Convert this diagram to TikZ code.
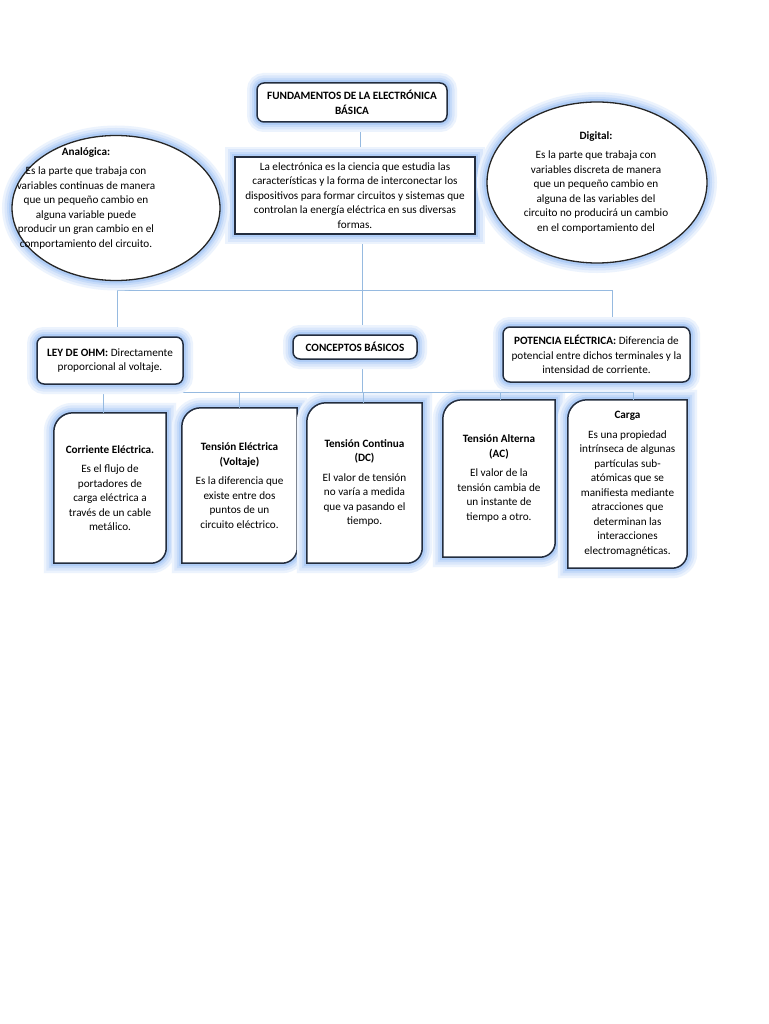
\documentclass[tikz,border=0pt]{standalone}
\usepackage{fontspec}
\setmainfont{Carlito}
\usetikzlibrary{arrows.meta,shapes.geometric,backgrounds}
\definecolor{edge}{RGB}{35,45,62}
\definecolor{wire}{RGB}{150,186,224}
\definecolor{glowa}{RGB}{236,243,253}
\definecolor{glowb}{RGB}{218,231,251}
\definecolor{glowc}{RGB}{198,219,249}
\definecolor{glowd}{RGB}{176,205,246}
\tikzset{
  glow/.style={preaction={draw=glowa,line width=20pt},
               preaction={draw=glowb,line width=15pt},
               preaction={draw=glowc,line width=10pt},
               preaction={draw=glowd,line width=6pt}},
  txt/.style={align=center,inner sep=0pt,font=\fontsize{11.2}{14.5}\selectfont},
  roundbox/.style={txt,glow,draw=edge,fill=white,line width=1.5pt,rounded corners=7pt},
  squarebox/.style={txt,glow,draw=edge,fill=white,line width=2pt},
  oval/.style={ellipse,glow,draw=black!85,fill=white,line width=1.3pt,inner sep=0pt},
  leaf/.style={txt},
  leafline/.style={glow,draw=edge,fill=white,line width=1.5pt},
  wire/.style={draw=wire,line width=0.7pt}
}
\begin{document}
\begin{tikzpicture}[x=1pt,y=-1pt]
  \useasboundingbox (0,0) rectangle (768,1024);

  % top row
  \node[roundbox,minimum width=190pt,minimum height=39pt] (title) at (352,102.5)
    {\textbf{FUNDAMENTOS DE LA ELECTRÓNICA}\\\textbf{BÁSICA}};
  \node[squarebox,minimum width=240pt,minimum height=77pt] (main) at (355,195.5)
    {La electrónica es la ciencia que estudia las\\
     características y la forma de interconectar los\\
     dispositivos para formar circuitos y sistemas que\\
     controlan la energía eléctrica en sus diversas\\
     formas.};
  \node[oval,minimum width=208pt,minimum height=145pt] (analog) at (116,208) {};
  \node[txt] (analogtext) at (86,198)
    {\textbf{Analógica:}\\[5pt]
     Es la parte que trabaja con\\
     variables continuas de manera\\
     que un pequeño cambio en\\
     alguna variable puede\\
     producir un gran cambio en el\\
     comportamiento del circuito.};
  \node[oval,minimum width=220pt,minimum height=161pt] (digital) at (597,182.5) {};
  \node[txt] (digitaltext) at (596,182)
    {\textbf{Digital:}\\[5pt]
     Es la parte que trabaja con\\
     variables discreta de manera\\
     que un pequeño cambio en\\
     alguna de las variables del\\
     circuito no producirá un cambio\\
     en el comportamiento del};

  % middle row
  \node[roundbox,minimum width=146pt,minimum height=47pt] (ohm) at (110,360.5)
    {\textbf{LEY DE OHM:} Directamente\\proporcional al voltaje.};
  \node[roundbox,minimum width=124pt,minimum height=24pt] (concepts) at (355,347)
    {\textbf{CONCEPTOS BÁSICOS}};
  \node[roundbox,minimum width=187pt,minimum height=55pt] (power) at (596.5,354.5)
    {\textbf{POTENCIA ELÉCTRICA:} Diferencia de\\
     potencial entre dichos terminales y la\\
     intensidad de corriente.};

  % bottom row
  \node[leaf,minimum width=112pt,minimum height=150pt] (corriente) at (110,488)
    {\textbf{Corriente Eléctrica.}\\[5pt]
     Es el flujo de\\portadores de\\carga eléctrica a\\través de un cable\\metálico.};
  \node[leaf,minimum width=115pt,minimum height=155pt] (voltaje) at (239.5,485.5)
    {\textbf{Tensión Eléctrica}\\\textbf{(Voltaje)}\\[5pt]
     Es la diferencia que\\existe entre dos\\puntos de un\\circuito eléctrico.};
  \node[leaf,minimum width=115pt,minimum height=160pt] (continua) at (364.5,483)
    {\textbf{Tensión Continua}\\\textbf{(DC)}\\[5pt]
     El valor de tensión\\no varía a medida\\que va pasando el\\tiempo.};
  \node[leaf,minimum width=112pt,minimum height=157pt] (alterna) at (499,478.5)
    {\textbf{Tensión Alterna}\\\textbf{(AC)}\\[5pt]
     El valor de la\\tensión cambia de\\un instante de\\tiempo a otro.};
  \node[leaf,minimum width=119pt,minimum height=168pt] (carga) at (627.5,484)
    {\textbf{Carga}\\[5pt]
     Es una propiedad\\intrínseca de algunas\\partículas sub-\\atómicas que se\\manifiesta mediante\\atracciones que\\determinan las\\interacciones\\electromagnéticas.};

  \begin{pgfonlayer}{background}
    \fill[white] (0,0) rectangle (768,1024);
    % leaf outlines
    \foreach \n in {corriente,voltaje,continua,alterna,carga}
      \draw[leafline] (\n.south west) -- ([yshift=-19pt]\n.north west)
        arc[start angle=180,end angle=90,radius=19pt] -- (\n.north east)
        -- ([yshift=15pt]\n.south east) arc[start angle=0,end angle=-90,radius=15pt] -- cycle;
    % connectors
    \coordinate (stem) at (362,290);
    \coordinate (busL) at (117,290);
    \coordinate (busR) at (612,290);
    \draw[wire,-{Stealth[length=5pt,width=5pt]}] ([xshift=8pt]title.south) -- ([xshift=8pt]title.south |- main.north);
    \draw[wire] (main.south -| stem) -- (stem);
    \draw[wire] (busL) -- (busR);
    \draw[wire] (busL) -- (busL |- ohm.north);
    \draw[wire] (stem) -- (stem |- concepts.north);
    \draw[wire] (busR) -- (busR |- power.north);
    \coordinate (hub) at (362,392);
    \draw[wire] (concepts.south -| hub) -- (hub);
    \foreach \n/\x in {corriente/103,voltaje/239,continua/363,alterna/500,carga/633}{
      \coordinate (tap-\n) at (\x,392);
      \draw[wire] (tap-\n) -- (tap-\n |- \n.north);
    }
    \draw[wire] (tap-corriente) -- (tap-carga);
  \end{pgfonlayer}
\end{tikzpicture}
\end{document}
